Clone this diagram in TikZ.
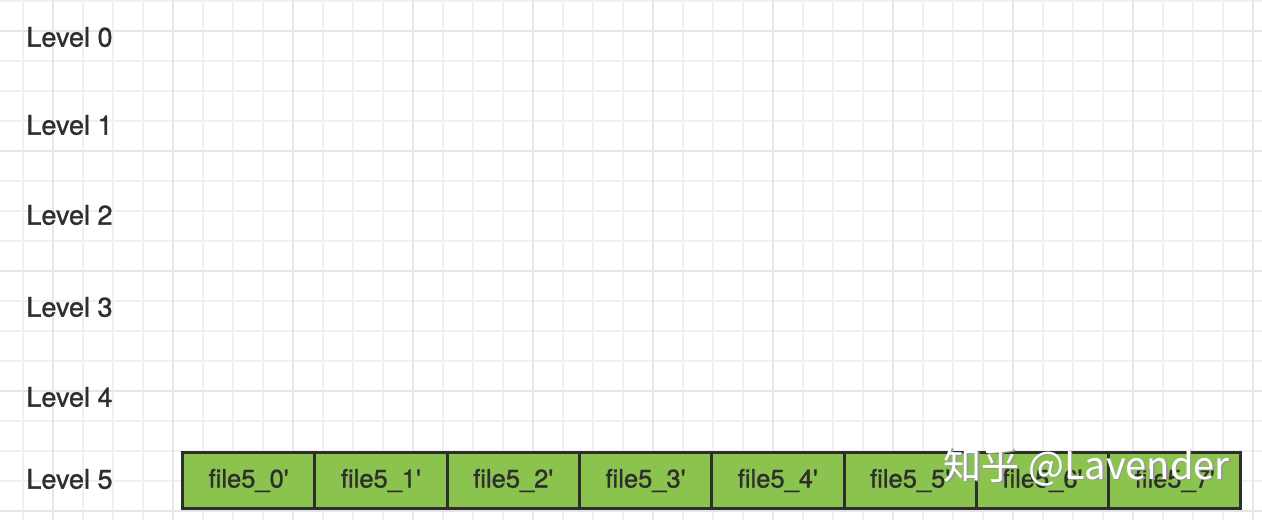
\documentclass[tikz,border=0pt]{standalone}
\usepackage{fontspec}
\setmainfont{TeX Gyre Heros}[FakeBold=1.1]
\newfontfamily\filefont{TeX Gyre Heros}[FakeBold=1.1]
\newfontfamily\cjkfont{Noto Sans CJK SC}
\definecolor{gridminor}{HTML}{F0F0F0}
\definecolor{gridmajor}{HTML}{E6E6E6}
\definecolor{filegreen}{HTML}{8BC34F}
\definecolor{txt}{HTML}{2E2E2E}
\tikzset{
  lvl/.style={text=txt, font=\fontsize{27}{30}\selectfont, inner sep=0pt, anchor=center},
  filebox/.style={draw=txt, line width=3pt, fill=filegreen, minimum width=132.3pt, minimum height=56pt, inner sep=0pt, anchor=north west, text=txt, font=\filefont\fontsize{25.5}{28}\selectfont},
}
\begin{document}
\begin{tikzpicture}[x=1pt,y=-1pt]
\useasboundingbox (0,0) rectangle (1262,520);
\fill[white] (0,0) rectangle (1262,520);
% grid
\foreach \k in {0,...,41} {
  \draw[gridminor, line width=1.2pt] ({23+30*\k},0) -- ({23+30*\k},520);
}
\foreach \k in {0,...,17} {
  \draw[gridminor, line width=1.2pt] (0,{1+30*\k}) -- (1262,{1+30*\k});
}
\foreach \k in {0,...,10} {
  \draw[gridmajor, line width=1.6pt] ({53+120*\k},0) -- ({53+120*\k},520);
}
\foreach \k in {0,...,4} {
  \draw[gridmajor, line width=1.6pt] (0,{31+120*\k}) -- (1262,{31+120*\k});
}
% level labels
\node[lvl] (l0) at (69.5,37) {Level 0};
\node[lvl] (l1) at (69.5,125) {Level 1};
\node[lvl] (l2) at (69.5,215) {Level 2};
\node[lvl] (l3) at (69.5,307) {Level 3};
\node[lvl] (l4) at (69.5,397) {Level 4};
\node[lvl] (l5) at (69.5,479) {Level 5};
% file boxes
\foreach \i in {0,...,7} {
  \node[filebox] (f\i) at ({181+132.3*\i},451) {file5\_\i'};
}
% watermark
\node[text=black!40, font=\cjkfont\fontsize{38}{42}\selectfont, inner sep=0pt] (wms) at (1088,468) {知乎 @Lavender};
\node[text=white, font=\cjkfont\fontsize{38}{42}\selectfont, inner sep=0pt] (wm) at (1086.5,466.5) {知乎 @Lavender};
\end{tikzpicture}
\end{document}
